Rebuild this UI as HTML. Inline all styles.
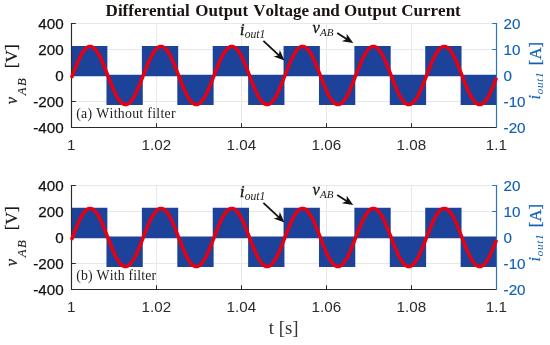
<!DOCTYPE html>
<html><head><meta charset="utf-8"><title>Differential Output Voltage and Output Current</title>
<style>
html,body{margin:0;padding:0;background:#fff;}
svg{display:block}
.tk{font-family:"Liberation Sans",Arial,sans-serif;font-size:15.2px;fill:#111;stroke:#111;stroke-width:.25px}
.tx{font-family:"Liberation Sans",Arial,sans-serif;font-size:15.2px;fill:#2b2b2b}
.tkb{font-family:"Liberation Sans",Arial,sans-serif;font-size:15.2px;fill:#0f5fb3;stroke:#0f5fb3;stroke-width:.15px}
.sf{font-family:"Liberation Serif","Times New Roman",serif;}
.bd{stroke:#1a1a1a;stroke-width:.3px;fill:#1a1a1a}
</style></head><body>
<svg width="550" height="345" viewBox="0 0 550 345">
<rect width="550" height="345" fill="#fff"/>

<text class="sf" y="16" font-size="16.6" font-weight="bold" fill="#1a1311" style="font-kerning:none"><tspan x="105.6" textLength="88.4" lengthAdjust="spacingAndGlyphs">Differential </tspan><tspan x="195.3" textLength="57.2" lengthAdjust="spacingAndGlyphs">Output </tspan><tspan x="253.3" textLength="60.0" lengthAdjust="spacingAndGlyphs">Voltage </tspan><tspan x="312.4" textLength="31.7" lengthAdjust="spacingAndGlyphs">and </tspan><tspan x="344.1" textLength="57.2" lengthAdjust="spacingAndGlyphs">Output </tspan><tspan x="401.2" textLength="59.6" lengthAdjust="spacingAndGlyphs">Current</tspan></text>
<path d="M71.50,23.50V127.50M156.50,23.50V127.50M241.50,23.50V127.50M326.50,23.50V127.50M411.50,23.50V127.50M496.50,23.50V127.50M71.50,23.50H496.50M71.50,49.50H496.50M71.50,75.50H496.50M71.50,101.50H496.50M71.50,127.50H496.50" stroke="#e8e8e8" stroke-width="1" fill="none"/>
<path d="M71.50,23.50h4.30M71.50,49.50h4.30M71.50,75.50h4.30M71.50,101.50h4.30M71.50,127.50h4.30M71.50,127.50v-4.30M156.50,127.50v-4.30M241.50,127.50v-4.30M326.50,127.50v-4.30M411.50,127.50v-4.30M496.50,127.50v-4.30" stroke="#2a2a2a" stroke-width="1" fill="none"/>
<path d="M496.50,23.50h-4.30M496.50,49.50h-4.30M496.50,75.50h-4.30M496.50,101.50h-4.30M496.50,127.50h-4.30" stroke="#2a72c4" stroke-width="1" fill="none"/>
<path d="M71.50,46.10H107.37V76.35H71.50ZM106.47,74.65H142.78V104.90H106.47ZM141.88,46.10H178.20V76.35H141.88ZM177.30,74.65H213.62V104.90H177.30ZM212.72,46.10H249.03V76.35H212.72ZM248.13,74.65H284.45V104.90H248.13ZM283.55,46.10H319.87V76.35H283.55ZM318.97,74.65H355.28V104.90H318.97ZM354.38,46.10H390.70V76.35H354.38ZM389.80,74.65H426.12V104.90H389.80ZM425.22,46.10H461.53V76.35H425.22ZM460.63,74.65H496.50V104.90H460.63Z" fill="#1d4299"/>
<path d="M71.50,23.00V127.50H496.50" stroke="#2a2a2a" stroke-width="1.15" fill="none"/>
<path d="M496.50,23.00V128.00" stroke="#2a72c4" stroke-width="1.2" fill="none"/>
<polyline points="71.50,77.82 72.21,76.00 72.92,74.17 73.62,72.34 74.33,70.53 75.04,68.74 75.75,66.97 76.46,65.24 77.17,63.55 77.88,61.91 78.58,60.32 79.29,58.79 80.00,57.32 80.71,55.93 81.42,54.61 82.12,53.38 82.83,52.24 83.54,51.18 84.25,50.22 84.96,49.37 85.67,48.61 86.38,47.96 87.08,47.42 87.79,46.99 88.50,46.68 89.21,46.47 89.92,46.38 90.62,46.41 91.33,46.55 92.04,46.81 92.75,47.18 93.46,47.66 94.17,48.25 94.88,48.94 95.58,49.75 96.29,50.65 97.00,51.65 97.71,52.75 98.42,53.94 99.12,55.21 99.83,56.56 100.54,57.99 101.25,59.48 101.96,61.04 102.67,62.66 103.38,64.32 104.08,66.03 104.79,67.78 105.50,69.56 106.21,71.36 106.92,73.18 107.62,75.00 108.33,76.83 109.04,78.66 109.75,80.47 110.46,82.26 111.17,84.03 111.88,85.76 112.58,87.45 113.29,89.09 114.00,90.68 114.71,92.21 115.42,93.68 116.12,95.07 116.83,96.39 117.54,97.62 118.25,98.76 118.96,99.82 119.67,100.78 120.38,101.63 121.08,102.39 121.79,103.04 122.50,103.58 123.21,104.01 123.92,104.32 124.62,104.53 125.33,104.62 126.04,104.59 126.75,104.45 127.46,104.19 128.17,103.82 128.88,103.34 129.58,102.75 130.29,102.06 131.00,101.25 131.71,100.35 132.42,99.35 133.12,98.25 133.83,97.06 134.54,95.79 135.25,94.44 135.96,93.01 136.67,91.52 137.38,89.96 138.08,88.34 138.79,86.68 139.50,84.97 140.21,83.22 140.92,81.44 141.62,79.64 142.33,77.82 143.04,76.00 143.75,74.17 144.46,72.34 145.17,70.53 145.88,68.74 146.58,66.97 147.29,65.24 148.00,63.55 148.71,61.91 149.42,60.32 150.12,58.79 150.83,57.32 151.54,55.93 152.25,54.61 152.96,53.38 153.67,52.24 154.38,51.18 155.08,50.22 155.79,49.37 156.50,48.61 157.21,47.96 157.92,47.42 158.62,46.99 159.33,46.68 160.04,46.47 160.75,46.38 161.46,46.41 162.17,46.55 162.88,46.81 163.58,47.18 164.29,47.66 165.00,48.25 165.71,48.94 166.42,49.75 167.12,50.65 167.83,51.65 168.54,52.75 169.25,53.94 169.96,55.21 170.67,56.56 171.38,57.99 172.08,59.48 172.79,61.04 173.50,62.66 174.21,64.32 174.92,66.03 175.62,67.78 176.33,69.56 177.04,71.36 177.75,73.18 178.46,75.00 179.17,76.83 179.88,78.66 180.58,80.47 181.29,82.26 182.00,84.03 182.71,85.76 183.42,87.45 184.12,89.09 184.83,90.68 185.54,92.21 186.25,93.68 186.96,95.07 187.67,96.39 188.38,97.62 189.08,98.76 189.79,99.82 190.50,100.78 191.21,101.63 191.92,102.39 192.62,103.04 193.33,103.58 194.04,104.01 194.75,104.32 195.46,104.53 196.17,104.62 196.88,104.59 197.58,104.45 198.29,104.19 199.00,103.82 199.71,103.34 200.42,102.75 201.12,102.06 201.83,101.25 202.54,100.35 203.25,99.35 203.96,98.25 204.67,97.06 205.38,95.79 206.08,94.44 206.79,93.01 207.50,91.52 208.21,89.96 208.92,88.34 209.62,86.68 210.33,84.97 211.04,83.22 211.75,81.44 212.46,79.64 213.17,77.82 213.88,76.00 214.58,74.17 215.29,72.34 216.00,70.53 216.71,68.74 217.42,66.97 218.12,65.24 218.83,63.55 219.54,61.91 220.25,60.32 220.96,58.79 221.67,57.32 222.38,55.93 223.08,54.61 223.79,53.38 224.50,52.24 225.21,51.18 225.92,50.22 226.62,49.37 227.33,48.61 228.04,47.96 228.75,47.42 229.46,46.99 230.17,46.68 230.88,46.47 231.58,46.38 232.29,46.41 233.00,46.55 233.71,46.81 234.42,47.18 235.12,47.66 235.83,48.25 236.54,48.94 237.25,49.75 237.96,50.65 238.67,51.65 239.38,52.75 240.08,53.94 240.79,55.21 241.50,56.56 242.21,57.99 242.92,59.48 243.62,61.04 244.33,62.66 245.04,64.32 245.75,66.03 246.46,67.78 247.17,69.56 247.88,71.36 248.58,73.18 249.29,75.00 250.00,76.83 250.71,78.66 251.42,80.47 252.12,82.26 252.83,84.03 253.54,85.76 254.25,87.45 254.96,89.09 255.67,90.68 256.38,92.21 257.08,93.68 257.79,95.07 258.50,96.39 259.21,97.62 259.92,98.76 260.62,99.82 261.33,100.78 262.04,101.63 262.75,102.39 263.46,103.04 264.17,103.58 264.88,104.01 265.58,104.32 266.29,104.53 267.00,104.62 267.71,104.59 268.42,104.45 269.12,104.19 269.83,103.82 270.54,103.34 271.25,102.75 271.96,102.06 272.67,101.25 273.38,100.35 274.08,99.35 274.79,98.25 275.50,97.06 276.21,95.79 276.92,94.44 277.62,93.01 278.33,91.52 279.04,89.96 279.75,88.34 280.46,86.68 281.17,84.97 281.88,83.22 282.58,81.44 283.29,79.64 284.00,77.82 284.71,76.00 285.42,74.17 286.12,72.34 286.83,70.53 287.54,68.74 288.25,66.97 288.96,65.24 289.67,63.55 290.38,61.91 291.08,60.32 291.79,58.79 292.50,57.32 293.21,55.93 293.92,54.61 294.62,53.38 295.33,52.24 296.04,51.18 296.75,50.22 297.46,49.37 298.17,48.61 298.88,47.96 299.58,47.42 300.29,46.99 301.00,46.68 301.71,46.47 302.42,46.38 303.12,46.41 303.83,46.55 304.54,46.81 305.25,47.18 305.96,47.66 306.67,48.25 307.38,48.94 308.08,49.75 308.79,50.65 309.50,51.65 310.21,52.75 310.92,53.94 311.62,55.21 312.33,56.56 313.04,57.99 313.75,59.48 314.46,61.04 315.17,62.66 315.88,64.32 316.58,66.03 317.29,67.78 318.00,69.56 318.71,71.36 319.42,73.18 320.12,75.00 320.83,76.83 321.54,78.66 322.25,80.47 322.96,82.26 323.67,84.03 324.38,85.76 325.08,87.45 325.79,89.09 326.50,90.68 327.21,92.21 327.92,93.68 328.62,95.07 329.33,96.39 330.04,97.62 330.75,98.76 331.46,99.82 332.17,100.78 332.88,101.63 333.58,102.39 334.29,103.04 335.00,103.58 335.71,104.01 336.42,104.32 337.12,104.53 337.83,104.62 338.54,104.59 339.25,104.45 339.96,104.19 340.67,103.82 341.38,103.34 342.08,102.75 342.79,102.06 343.50,101.25 344.21,100.35 344.92,99.35 345.62,98.25 346.33,97.06 347.04,95.79 347.75,94.44 348.46,93.01 349.17,91.52 349.88,89.96 350.58,88.34 351.29,86.68 352.00,84.97 352.71,83.22 353.42,81.44 354.12,79.64 354.83,77.82 355.54,76.00 356.25,74.17 356.96,72.34 357.67,70.53 358.38,68.74 359.08,66.97 359.79,65.24 360.50,63.55 361.21,61.91 361.92,60.32 362.62,58.79 363.33,57.32 364.04,55.93 364.75,54.61 365.46,53.38 366.17,52.24 366.88,51.18 367.58,50.22 368.29,49.37 369.00,48.61 369.71,47.96 370.42,47.42 371.12,46.99 371.83,46.68 372.54,46.47 373.25,46.38 373.96,46.41 374.67,46.55 375.38,46.81 376.08,47.18 376.79,47.66 377.50,48.25 378.21,48.94 378.92,49.75 379.62,50.65 380.33,51.65 381.04,52.75 381.75,53.94 382.46,55.21 383.17,56.56 383.88,57.99 384.58,59.48 385.29,61.04 386.00,62.66 386.71,64.32 387.42,66.03 388.12,67.78 388.83,69.56 389.54,71.36 390.25,73.18 390.96,75.00 391.67,76.83 392.38,78.66 393.08,80.47 393.79,82.26 394.50,84.03 395.21,85.76 395.92,87.45 396.62,89.09 397.33,90.68 398.04,92.21 398.75,93.68 399.46,95.07 400.17,96.39 400.88,97.62 401.58,98.76 402.29,99.82 403.00,100.78 403.71,101.63 404.42,102.39 405.12,103.04 405.83,103.58 406.54,104.01 407.25,104.32 407.96,104.53 408.67,104.62 409.38,104.59 410.08,104.45 410.79,104.19 411.50,103.82 412.21,103.34 412.92,102.75 413.62,102.06 414.33,101.25 415.04,100.35 415.75,99.35 416.46,98.25 417.17,97.06 417.88,95.79 418.58,94.44 419.29,93.01 420.00,91.52 420.71,89.96 421.42,88.34 422.12,86.68 422.83,84.97 423.54,83.22 424.25,81.44 424.96,79.64 425.67,77.82 426.38,76.00 427.08,74.17 427.79,72.34 428.50,70.53 429.21,68.74 429.92,66.97 430.62,65.24 431.33,63.55 432.04,61.91 432.75,60.32 433.46,58.79 434.17,57.32 434.88,55.93 435.58,54.61 436.29,53.38 437.00,52.24 437.71,51.18 438.42,50.22 439.12,49.37 439.83,48.61 440.54,47.96 441.25,47.42 441.96,46.99 442.67,46.68 443.38,46.47 444.08,46.38 444.79,46.41 445.50,46.55 446.21,46.81 446.92,47.18 447.62,47.66 448.33,48.25 449.04,48.94 449.75,49.75 450.46,50.65 451.17,51.65 451.88,52.75 452.58,53.94 453.29,55.21 454.00,56.56 454.71,57.99 455.42,59.48 456.12,61.04 456.83,62.66 457.54,64.32 458.25,66.03 458.96,67.78 459.67,69.56 460.38,71.36 461.08,73.18 461.79,75.00 462.50,76.83 463.21,78.66 463.92,80.47 464.62,82.26 465.33,84.03 466.04,85.76 466.75,87.45 467.46,89.09 468.17,90.68 468.88,92.21 469.58,93.68 470.29,95.07 471.00,96.39 471.71,97.62 472.42,98.76 473.12,99.82 473.83,100.78 474.54,101.63 475.25,102.39 475.96,103.04 476.67,103.58 477.38,104.01 478.08,104.32 478.79,104.53 479.50,104.62 480.21,104.59 480.92,104.45 481.62,104.19 482.33,103.82 483.04,103.34 483.75,102.75 484.46,102.06 485.17,101.25 485.88,100.35 486.58,99.35 487.29,98.25 488.00,97.06 488.71,95.79 489.42,94.44 490.12,93.01 490.83,91.52 491.54,89.96 492.25,88.34 492.96,86.68 493.67,84.97 494.38,83.22 495.08,81.44 495.79,79.64 496.50,77.82" fill="none" stroke="#e60012" stroke-width="3.5" stroke-linejoin="round"/>
<text class="tk" x="63.7" y="29.10" text-anchor="end">400</text>
<text class="tk" x="63.7" y="55.10" text-anchor="end">200</text>
<text class="tk" x="63.7" y="81.10" text-anchor="end">0</text>
<text class="tk" x="63.7" y="107.10" text-anchor="end">-200</text>
<text class="tk" x="63.7" y="133.10" text-anchor="end">-400</text>
<text class="tkb" x="503.6" y="29.00">20</text>
<text class="tkb" x="503.6" y="55.00">10</text>
<text class="tkb" x="503.6" y="81.00">0</text>
<text class="tkb" x="503.6" y="107.00">-10</text>
<text class="tkb" x="503.6" y="133.00">-20</text>
<text class="tx" x="71.30" y="149.80" text-anchor="middle">1</text>
<text class="tx" x="156.30" y="149.80" text-anchor="middle">1.02</text>
<text class="tx" x="241.30" y="149.80" text-anchor="middle">1.04</text>
<text class="tx" x="326.30" y="149.80" text-anchor="middle">1.06</text>
<text class="tx" x="411.30" y="149.80" text-anchor="middle">1.08</text>
<text class="tx" x="496.30" y="149.80" text-anchor="middle">1.1</text>
<text class="sf" fill="#1e1e1e" x="76.2" y="118.20" font-size="13.8" style="font-kerning:none" textLength="99.4" lengthAdjust="spacing">(a) Without filter</text>
<g transform="translate(16.8,104.20) rotate(-90)" class="sf bd"><text x="0" y="0" font-size="16.5" font-style="italic">v</text><text x="8.9" y="9.3" font-size="12.8" font-style="italic" letter-spacing="1.5" stroke-width=".12">AB</text><text x="36.0" y="0.5" font-size="17.2">[V]</text></g>
<g transform="translate(540.2,99.60) rotate(-90)" class="sf" fill="#0f5fb3" stroke="#0f5fb3" stroke-width=".25"><text x="0" y="0" font-size="16.5" font-style="italic">i</text><text x="5.4" y="2.8" font-size="11.2" font-style="italic" letter-spacing="0.6" stroke="none">out1</text><text x="34.4" y="0.3" font-size="16.8">[A]</text></g>
<text class="sf bd" x="239.8" y="35.30" font-size="17.5" font-style="italic">i<tspan font-size="11.6" dy="3" letter-spacing="0" stroke="none">out1</tspan></text>
<text class="sf bd" x="312.6" y="32.70" font-size="16.5" font-style="italic">v<tspan font-size="11" dy="3" letter-spacing="0" stroke="none">AB</tspan></text>
<line x1="263.40" y1="40.80" x2="280.04" y2="56.32" stroke="#111" stroke-width="1.8"/>
<path d="M0.4,0 L-10.2,-4.5 L-7.4,0 L-10.2,4.5 Z" fill="#111" transform="translate(284.20,60.20) rotate(43.01)"/>
<line x1="337.20" y1="32.95" x2="349.76" y2="40.91" stroke="#111" stroke-width="1.8"/>
<path d="M0.4,0 L-10.2,-4.5 L-7.4,0 L-10.2,4.5 Z" fill="#111" transform="translate(352.90,42.90) rotate(32.36)"/>
<path d="M71.50,185.50V289.50M156.50,185.50V289.50M241.50,185.50V289.50M326.50,185.50V289.50M411.50,185.50V289.50M496.50,185.50V289.50M71.50,185.50H496.50M71.50,211.50H496.50M71.50,237.50H496.50M71.50,263.50H496.50M71.50,289.50H496.50" stroke="#e8e8e8" stroke-width="1" fill="none"/>
<path d="M71.50,185.50h4.30M71.50,211.50h4.30M71.50,237.50h4.30M71.50,263.50h4.30M71.50,289.50h4.30M71.50,289.50v-4.30M156.50,289.50v-4.30M241.50,289.50v-4.30M326.50,289.50v-4.30M411.50,289.50v-4.30M496.50,289.50v-4.30" stroke="#2a2a2a" stroke-width="1" fill="none"/>
<path d="M496.50,185.50h-4.30M496.50,211.50h-4.30M496.50,237.50h-4.30M496.50,263.50h-4.30M496.50,289.50h-4.30" stroke="#2a72c4" stroke-width="1" fill="none"/>
<path d="M71.50,207.64H107.37V238.15H71.50ZM106.47,236.45H142.78V266.96H106.47ZM141.88,207.64H178.20V238.15H141.88ZM177.30,236.45H213.62V266.96H177.30ZM212.72,207.64H249.03V238.15H212.72ZM248.13,236.45H284.45V266.96H248.13ZM283.55,207.64H319.87V238.15H283.55ZM318.97,236.45H355.28V266.96H318.97ZM354.38,207.64H390.70V238.15H354.38ZM389.80,236.45H426.12V266.96H389.80ZM425.22,207.64H461.53V238.15H425.22ZM460.63,236.45H496.50V266.96H460.63Z" fill="#1d4299"/>
<path d="M71.50,185.00V289.50H496.50" stroke="#2a2a2a" stroke-width="1.15" fill="none"/>
<path d="M496.50,185.00V290.00" stroke="#2a72c4" stroke-width="1.2" fill="none"/>
<polyline points="71.50,239.82 72.21,238.00 72.92,236.17 73.62,234.34 74.33,232.53 75.04,230.74 75.75,228.97 76.46,227.24 77.17,225.55 77.88,223.91 78.58,222.32 79.29,220.79 80.00,219.32 80.71,217.93 81.42,216.61 82.12,215.38 82.83,214.24 83.54,213.18 84.25,212.22 84.96,211.37 85.67,210.61 86.38,209.96 87.08,209.42 87.79,208.99 88.50,208.68 89.21,208.47 89.92,208.38 90.62,208.41 91.33,208.55 92.04,208.81 92.75,209.18 93.46,209.66 94.17,210.25 94.88,210.94 95.58,211.75 96.29,212.65 97.00,213.65 97.71,214.75 98.42,215.94 99.12,217.21 99.83,218.56 100.54,219.99 101.25,221.48 101.96,223.04 102.67,224.66 103.38,226.32 104.08,228.03 104.79,229.78 105.50,231.56 106.21,233.36 106.92,235.18 107.62,237.00 108.33,238.83 109.04,240.66 109.75,242.47 110.46,244.26 111.17,246.03 111.88,247.76 112.58,249.45 113.29,251.09 114.00,252.68 114.71,254.21 115.42,255.68 116.12,257.07 116.83,258.39 117.54,259.62 118.25,260.76 118.96,261.82 119.67,262.78 120.38,263.63 121.08,264.39 121.79,265.04 122.50,265.58 123.21,266.01 123.92,266.32 124.62,266.53 125.33,266.62 126.04,266.59 126.75,266.45 127.46,266.19 128.17,265.82 128.88,265.34 129.58,264.75 130.29,264.06 131.00,263.25 131.71,262.35 132.42,261.35 133.12,260.25 133.83,259.06 134.54,257.79 135.25,256.44 135.96,255.01 136.67,253.52 137.38,251.96 138.08,250.34 138.79,248.68 139.50,246.97 140.21,245.22 140.92,243.44 141.62,241.64 142.33,239.82 143.04,238.00 143.75,236.17 144.46,234.34 145.17,232.53 145.88,230.74 146.58,228.97 147.29,227.24 148.00,225.55 148.71,223.91 149.42,222.32 150.12,220.79 150.83,219.32 151.54,217.93 152.25,216.61 152.96,215.38 153.67,214.24 154.38,213.18 155.08,212.22 155.79,211.37 156.50,210.61 157.21,209.96 157.92,209.42 158.62,208.99 159.33,208.68 160.04,208.47 160.75,208.38 161.46,208.41 162.17,208.55 162.88,208.81 163.58,209.18 164.29,209.66 165.00,210.25 165.71,210.94 166.42,211.75 167.12,212.65 167.83,213.65 168.54,214.75 169.25,215.94 169.96,217.21 170.67,218.56 171.38,219.99 172.08,221.48 172.79,223.04 173.50,224.66 174.21,226.32 174.92,228.03 175.62,229.78 176.33,231.56 177.04,233.36 177.75,235.18 178.46,237.00 179.17,238.83 179.88,240.66 180.58,242.47 181.29,244.26 182.00,246.03 182.71,247.76 183.42,249.45 184.12,251.09 184.83,252.68 185.54,254.21 186.25,255.68 186.96,257.07 187.67,258.39 188.38,259.62 189.08,260.76 189.79,261.82 190.50,262.78 191.21,263.63 191.92,264.39 192.62,265.04 193.33,265.58 194.04,266.01 194.75,266.32 195.46,266.53 196.17,266.62 196.88,266.59 197.58,266.45 198.29,266.19 199.00,265.82 199.71,265.34 200.42,264.75 201.12,264.06 201.83,263.25 202.54,262.35 203.25,261.35 203.96,260.25 204.67,259.06 205.38,257.79 206.08,256.44 206.79,255.01 207.50,253.52 208.21,251.96 208.92,250.34 209.62,248.68 210.33,246.97 211.04,245.22 211.75,243.44 212.46,241.64 213.17,239.82 213.88,238.00 214.58,236.17 215.29,234.34 216.00,232.53 216.71,230.74 217.42,228.97 218.12,227.24 218.83,225.55 219.54,223.91 220.25,222.32 220.96,220.79 221.67,219.32 222.38,217.93 223.08,216.61 223.79,215.38 224.50,214.24 225.21,213.18 225.92,212.22 226.62,211.37 227.33,210.61 228.04,209.96 228.75,209.42 229.46,208.99 230.17,208.68 230.88,208.47 231.58,208.38 232.29,208.41 233.00,208.55 233.71,208.81 234.42,209.18 235.12,209.66 235.83,210.25 236.54,210.94 237.25,211.75 237.96,212.65 238.67,213.65 239.38,214.75 240.08,215.94 240.79,217.21 241.50,218.56 242.21,219.99 242.92,221.48 243.62,223.04 244.33,224.66 245.04,226.32 245.75,228.03 246.46,229.78 247.17,231.56 247.88,233.36 248.58,235.18 249.29,237.00 250.00,238.83 250.71,240.66 251.42,242.47 252.12,244.26 252.83,246.03 253.54,247.76 254.25,249.45 254.96,251.09 255.67,252.68 256.38,254.21 257.08,255.68 257.79,257.07 258.50,258.39 259.21,259.62 259.92,260.76 260.62,261.82 261.33,262.78 262.04,263.63 262.75,264.39 263.46,265.04 264.17,265.58 264.88,266.01 265.58,266.32 266.29,266.53 267.00,266.62 267.71,266.59 268.42,266.45 269.12,266.19 269.83,265.82 270.54,265.34 271.25,264.75 271.96,264.06 272.67,263.25 273.38,262.35 274.08,261.35 274.79,260.25 275.50,259.06 276.21,257.79 276.92,256.44 277.62,255.01 278.33,253.52 279.04,251.96 279.75,250.34 280.46,248.68 281.17,246.97 281.88,245.22 282.58,243.44 283.29,241.64 284.00,239.82 284.71,238.00 285.42,236.17 286.12,234.34 286.83,232.53 287.54,230.74 288.25,228.97 288.96,227.24 289.67,225.55 290.38,223.91 291.08,222.32 291.79,220.79 292.50,219.32 293.21,217.93 293.92,216.61 294.62,215.38 295.33,214.24 296.04,213.18 296.75,212.22 297.46,211.37 298.17,210.61 298.88,209.96 299.58,209.42 300.29,208.99 301.00,208.68 301.71,208.47 302.42,208.38 303.12,208.41 303.83,208.55 304.54,208.81 305.25,209.18 305.96,209.66 306.67,210.25 307.38,210.94 308.08,211.75 308.79,212.65 309.50,213.65 310.21,214.75 310.92,215.94 311.62,217.21 312.33,218.56 313.04,219.99 313.75,221.48 314.46,223.04 315.17,224.66 315.88,226.32 316.58,228.03 317.29,229.78 318.00,231.56 318.71,233.36 319.42,235.18 320.12,237.00 320.83,238.83 321.54,240.66 322.25,242.47 322.96,244.26 323.67,246.03 324.38,247.76 325.08,249.45 325.79,251.09 326.50,252.68 327.21,254.21 327.92,255.68 328.62,257.07 329.33,258.39 330.04,259.62 330.75,260.76 331.46,261.82 332.17,262.78 332.88,263.63 333.58,264.39 334.29,265.04 335.00,265.58 335.71,266.01 336.42,266.32 337.12,266.53 337.83,266.62 338.54,266.59 339.25,266.45 339.96,266.19 340.67,265.82 341.38,265.34 342.08,264.75 342.79,264.06 343.50,263.25 344.21,262.35 344.92,261.35 345.62,260.25 346.33,259.06 347.04,257.79 347.75,256.44 348.46,255.01 349.17,253.52 349.88,251.96 350.58,250.34 351.29,248.68 352.00,246.97 352.71,245.22 353.42,243.44 354.12,241.64 354.83,239.82 355.54,238.00 356.25,236.17 356.96,234.34 357.67,232.53 358.38,230.74 359.08,228.97 359.79,227.24 360.50,225.55 361.21,223.91 361.92,222.32 362.62,220.79 363.33,219.32 364.04,217.93 364.75,216.61 365.46,215.38 366.17,214.24 366.88,213.18 367.58,212.22 368.29,211.37 369.00,210.61 369.71,209.96 370.42,209.42 371.12,208.99 371.83,208.68 372.54,208.47 373.25,208.38 373.96,208.41 374.67,208.55 375.38,208.81 376.08,209.18 376.79,209.66 377.50,210.25 378.21,210.94 378.92,211.75 379.62,212.65 380.33,213.65 381.04,214.75 381.75,215.94 382.46,217.21 383.17,218.56 383.88,219.99 384.58,221.48 385.29,223.04 386.00,224.66 386.71,226.32 387.42,228.03 388.12,229.78 388.83,231.56 389.54,233.36 390.25,235.18 390.96,237.00 391.67,238.83 392.38,240.66 393.08,242.47 393.79,244.26 394.50,246.03 395.21,247.76 395.92,249.45 396.62,251.09 397.33,252.68 398.04,254.21 398.75,255.68 399.46,257.07 400.17,258.39 400.88,259.62 401.58,260.76 402.29,261.82 403.00,262.78 403.71,263.63 404.42,264.39 405.12,265.04 405.83,265.58 406.54,266.01 407.25,266.32 407.96,266.53 408.67,266.62 409.38,266.59 410.08,266.45 410.79,266.19 411.50,265.82 412.21,265.34 412.92,264.75 413.62,264.06 414.33,263.25 415.04,262.35 415.75,261.35 416.46,260.25 417.17,259.06 417.88,257.79 418.58,256.44 419.29,255.01 420.00,253.52 420.71,251.96 421.42,250.34 422.12,248.68 422.83,246.97 423.54,245.22 424.25,243.44 424.96,241.64 425.67,239.82 426.38,238.00 427.08,236.17 427.79,234.34 428.50,232.53 429.21,230.74 429.92,228.97 430.62,227.24 431.33,225.55 432.04,223.91 432.75,222.32 433.46,220.79 434.17,219.32 434.88,217.93 435.58,216.61 436.29,215.38 437.00,214.24 437.71,213.18 438.42,212.22 439.12,211.37 439.83,210.61 440.54,209.96 441.25,209.42 441.96,208.99 442.67,208.68 443.38,208.47 444.08,208.38 444.79,208.41 445.50,208.55 446.21,208.81 446.92,209.18 447.62,209.66 448.33,210.25 449.04,210.94 449.75,211.75 450.46,212.65 451.17,213.65 451.88,214.75 452.58,215.94 453.29,217.21 454.00,218.56 454.71,219.99 455.42,221.48 456.12,223.04 456.83,224.66 457.54,226.32 458.25,228.03 458.96,229.78 459.67,231.56 460.38,233.36 461.08,235.18 461.79,237.00 462.50,238.83 463.21,240.66 463.92,242.47 464.62,244.26 465.33,246.03 466.04,247.76 466.75,249.45 467.46,251.09 468.17,252.68 468.88,254.21 469.58,255.68 470.29,257.07 471.00,258.39 471.71,259.62 472.42,260.76 473.12,261.82 473.83,262.78 474.54,263.63 475.25,264.39 475.96,265.04 476.67,265.58 477.38,266.01 478.08,266.32 478.79,266.53 479.50,266.62 480.21,266.59 480.92,266.45 481.62,266.19 482.33,265.82 483.04,265.34 483.75,264.75 484.46,264.06 485.17,263.25 485.88,262.35 486.58,261.35 487.29,260.25 488.00,259.06 488.71,257.79 489.42,256.44 490.12,255.01 490.83,253.52 491.54,251.96 492.25,250.34 492.96,248.68 493.67,246.97 494.38,245.22 495.08,243.44 495.79,241.64 496.50,239.82" fill="none" stroke="#e60012" stroke-width="3.5" stroke-linejoin="round"/>
<text class="tk" x="63.7" y="191.10" text-anchor="end">400</text>
<text class="tk" x="63.7" y="217.10" text-anchor="end">200</text>
<text class="tk" x="63.7" y="243.10" text-anchor="end">0</text>
<text class="tk" x="63.7" y="269.10" text-anchor="end">-200</text>
<text class="tk" x="63.7" y="295.10" text-anchor="end">-400</text>
<text class="tkb" x="503.6" y="191.00">20</text>
<text class="tkb" x="503.6" y="217.00">10</text>
<text class="tkb" x="503.6" y="243.00">0</text>
<text class="tkb" x="503.6" y="269.00">-10</text>
<text class="tkb" x="503.6" y="295.00">-20</text>
<text class="tx" x="71.30" y="311.80" text-anchor="middle">1</text>
<text class="tx" x="156.30" y="311.80" text-anchor="middle">1.02</text>
<text class="tx" x="241.30" y="311.80" text-anchor="middle">1.04</text>
<text class="tx" x="326.30" y="311.80" text-anchor="middle">1.06</text>
<text class="tx" x="411.30" y="311.80" text-anchor="middle">1.08</text>
<text class="tx" x="496.30" y="311.80" text-anchor="middle">1.1</text>
<text class="sf" fill="#1e1e1e" x="76.2" y="280.20" font-size="13.8" style="font-kerning:none" textLength="80.0" lengthAdjust="spacing">(b) With filter</text>
<g transform="translate(16.8,266.20) rotate(-90)" class="sf bd"><text x="0" y="0" font-size="16.5" font-style="italic">v</text><text x="8.9" y="9.3" font-size="12.8" font-style="italic" letter-spacing="1.5" stroke-width=".12">AB</text><text x="36.0" y="0.5" font-size="17.2">[V]</text></g>
<g transform="translate(540.2,261.60) rotate(-90)" class="sf" fill="#0f5fb3" stroke="#0f5fb3" stroke-width=".25"><text x="0" y="0" font-size="16.5" font-style="italic">i</text><text x="5.4" y="2.8" font-size="11.2" font-style="italic" letter-spacing="0.6" stroke="none">out1</text><text x="34.4" y="0.3" font-size="16.8">[A]</text></g>
<text class="sf bd" x="239.8" y="197.30" font-size="17.5" font-style="italic">i<tspan font-size="11.6" dy="3" letter-spacing="0" stroke="none">out1</tspan></text>
<text class="sf bd" x="312.6" y="194.70" font-size="16.5" font-style="italic">v<tspan font-size="11" dy="3" letter-spacing="0" stroke="none">AB</tspan></text>
<line x1="263.40" y1="202.80" x2="280.04" y2="218.32" stroke="#111" stroke-width="1.8"/>
<path d="M0.4,0 L-10.2,-4.5 L-7.4,0 L-10.2,4.5 Z" fill="#111" transform="translate(284.20,222.20) rotate(43.01)"/>
<line x1="337.20" y1="194.95" x2="349.76" y2="202.91" stroke="#111" stroke-width="1.8"/>
<path d="M0.4,0 L-10.2,-4.5 L-7.4,0 L-10.2,4.5 Z" fill="#111" transform="translate(352.90,204.90) rotate(32.36)"/>
<text class="sf" x="283.6" y="334.2" font-size="18.8" fill="#333" text-anchor="middle">t [s]</text>
</svg></body></html>
